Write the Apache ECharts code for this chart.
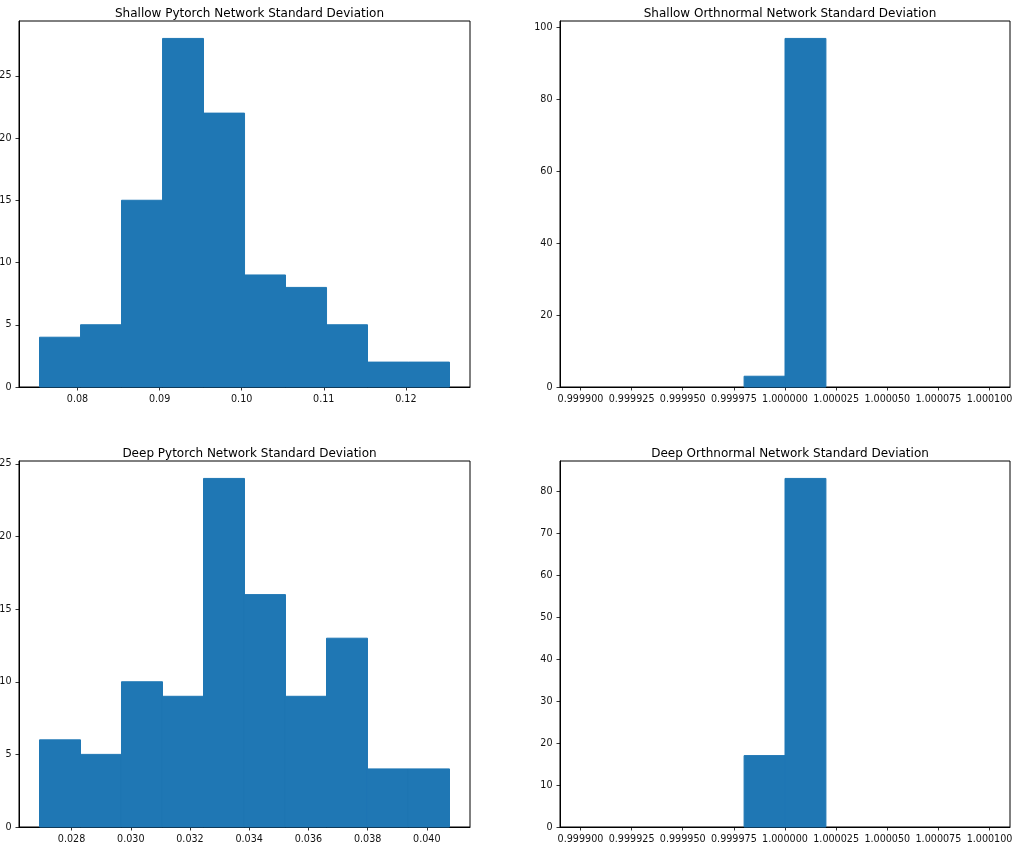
<!DOCTYPE html>
<html>
<head>
<meta charset="utf-8">
<script src="https://cdn.jsdelivr.net/npm/echarts@6/dist/echarts.min.js"></script>
<style>
html,body{margin:0;padding:0;background:#fff;}
#chart{width:1024px;height:860px;}
</style>
</head>
<body>
<div id="chart"></div>
<script>
// ---- Data ----
const titles = [
  "Shallow Pytorch Network Standard Deviation",
  "Shallow Orthnormal Network Standard Deviation",
  "Deep Pytorch Network Standard Deviation",
  "Deep Orthnormal Network Standard Deviation"
];

const edgesShallowPytorch = [0.07537, 0.08037, 0.08536, 0.09036, 0.09535, 0.10035, 0.10534, 0.11034, 0.11533, 0.12033, 0.12532];
const countsShallowPytorch = [4, 5, 15, 28, 22, 9, 8, 5, 2, 2];

const edgesShallowOrtho = [0.99990, 0.99992, 0.99994, 0.99996, 0.99998, 1.00000, 1.00002, 1.00004, 1.00006, 1.00008, 1.00010];
const countsShallowOrtho = [0, 0, 0, 0, 3, 97, 0, 0, 0, 0];

const edgesDeepPytorch = [0.026918, 0.028303, 0.029687, 0.031072, 0.032457, 0.033841, 0.035226, 0.036611, 0.037995, 0.039380, 0.040765];
const countsDeepPytorch = [6, 5, 10, 9, 24, 16, 9, 13, 4, 4];

const edgesDeepOrtho = [0.99990, 0.99992, 0.99994, 0.99996, 0.99998, 1.00000, 1.00002, 1.00004, 1.00006, 1.00008, 1.00010];
const countsDeepOrtho = [0, 0, 0, 0, 17, 83, 0, 0, 0, 0];

const xTicksShallowPytorch = [0.08, 0.09, 0.10, 0.11, 0.12];
const xTicksDeepPytorch = [0.028, 0.030, 0.032, 0.034, 0.036, 0.038, 0.040];
const xTicksOrtho = [0.999900, 0.999925, 0.999950, 0.999975, 1.000000, 1.000025, 1.000050, 1.000075, 1.000100];

const yTicksShallowPytorch = [0, 5, 10, 15, 20, 25];
const yTicksShallowOrtho = [0, 20, 40, 60, 80, 100];
const yTicksDeepPytorch = [0, 5, 10, 15, 20, 25];
const yTicksDeepOrtho = [0, 10, 20, 30, 40, 50, 60, 70, 80];

// ---- Panels ----
const panels = [
  {edges: edgesShallowPytorch, counts: countsShallowPytorch, xt: xTicksShallowPytorch, yt: yTicksShallowPytorch, dec: 2,
   grid: {left: 19, top: 21, width: 451, height: 366}},
  {edges: edgesShallowOrtho, counts: countsShallowOrtho, xt: xTicksOrtho, yt: yTicksShallowOrtho, dec: 6,
   grid: {left: 560, top: 21, width: 450, height: 366}},
  {edges: edgesDeepPytorch, counts: countsDeepPytorch, xt: xTicksDeepPytorch, yt: yTicksDeepPytorch, dec: 3,
   grid: {left: 19, top: 461, width: 451, height: 366}},
  {edges: edgesDeepOrtho, counts: countsDeepOrtho, xt: xTicksOrtho, yt: yTicksDeepOrtho, dec: 6,
   grid: {left: 560, top: 461, width: 450, height: 366}}
];

const FONT = "DejaVu Sans";
const AX = '#000';
const BAR = '#1f77b4';
const TICK_FS = 9.6;

function renderItem(params, api) {
  const x0 = api.value(0), x1 = api.value(1), c = api.value(2);
  const p0 = api.coord([x0, 0]);
  const p1 = api.coord([x1, c]);
  return {
    type: 'rect',
    shape: {x: p0[0], y: p1[1], width: p1[0] - p0[0], height: p0[1] - p1[1]},
    style: {fill: BAR, stroke: c > 0 ? BAR : null, lineWidth: 1}
  };
}

const option = {
  backgroundColor: '#fff',
  animation: false,
  title: [], grid: [], xAxis: [], yAxis: [], series: []
};

panels.forEach((p, i) => {
  const g = p.grid;
  option.grid.push({left: g.left, top: g.top, width: g.width, height: g.height,
    show: true, borderColor: AX, borderWidth: 1, backgroundColor: 'transparent',
    containLabel: false, outerBoundsMode: 'none'});
  option.title.push({
    text: titles[i],
    left: g.left + g.width / 2,
    top: g.top - 18,
    textAlign: 'center',
    textStyle: {fontFamily: FONT, fontSize: 12, fontWeight: 'normal', color: '#000'}
  });
  const lo = p.edges[0], hi = p.edges[p.edges.length - 1];
  const pad = (hi - lo) * 0.05;
  const dec = p.dec;
  option.xAxis.push({
    type: 'value', gridIndex: i, min: lo - pad, max: hi + pad, scale: true,
    splitLine: {show: false},
    axisLine: {show: true, onZero: false, lineStyle: {color: AX, width: 1}},
    axisTick: {show: true, inside: false, length: 3.5, customValues: p.xt, lineStyle: {color: AX, width: 0.8}},
    axisLabel: {show: true, margin: 7, customValues: p.xt, interval: 0, hideOverlap: false,
      fontFamily: FONT, fontSize: TICK_FS, color: '#111',
      formatter: v => Number(v).toFixed(dec)}
  });
  const maxC = Math.max(...p.counts);
  option.yAxis.push({
    type: 'value', gridIndex: i, min: 0, max: maxC * 1.05,
    splitLine: {show: false},
    axisLine: {show: true, lineStyle: {color: AX, width: 1}},
    axisTick: {show: true, inside: false, length: 3.5, customValues: p.yt, lineStyle: {color: AX, width: 0.8}},
    axisLabel: {show: true, margin: 7.5, customValues: p.yt, fontFamily: FONT, fontSize: TICK_FS, color: '#111',
      formatter: v => String(Math.round(v))}
  });
  const data = p.counts.map((c, k) => [p.edges[k], p.edges[k + 1], c]);
  option.series.push({
    type: 'custom', xAxisIndex: i, yAxisIndex: i,
    renderItem: renderItem,
    encode: {x: [0, 1], y: 2},
    data: data,
    silent: true
  });
});

const chart = echarts.init(document.getElementById('chart'), null, {renderer: 'canvas'});
chart.setOption(option);
</script>
</body>
</html>
